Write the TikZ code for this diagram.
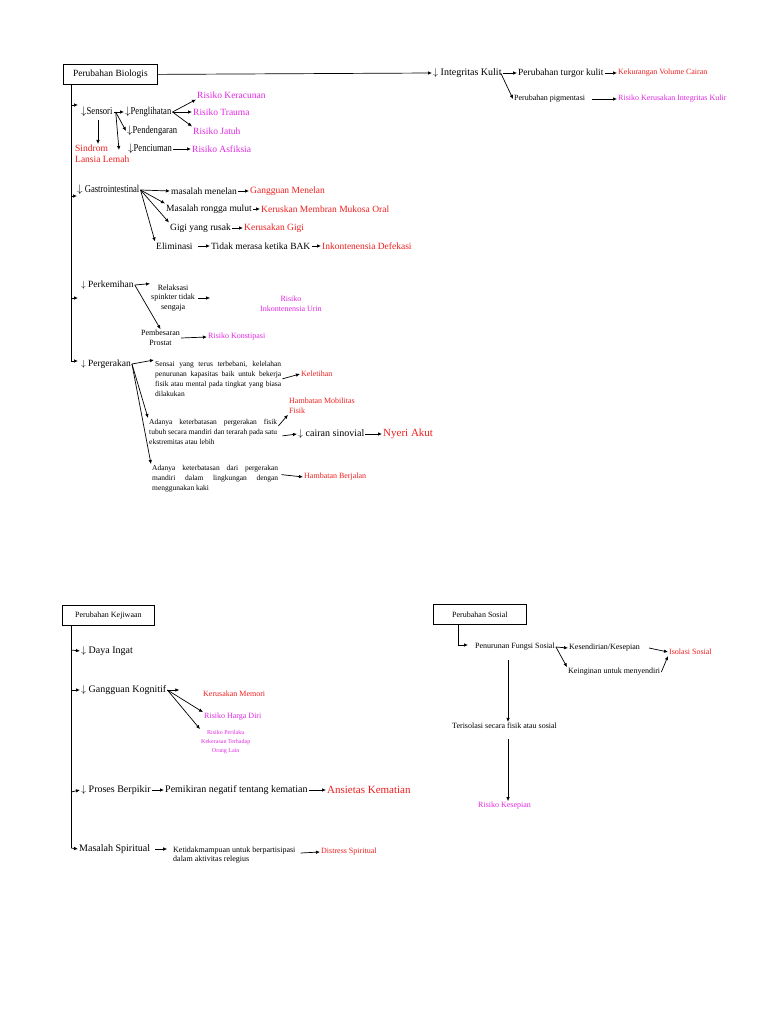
\documentclass[tikz,border=0pt]{standalone}
\usepackage{fontspec}
\setmainfont{Liberation Serif}
\usetikzlibrary{arrows.meta}
\definecolor{rd}{RGB}{240,30,30}
\definecolor{mg}{RGB}{225,40,225}
\begin{document}
\begin{tikzpicture}[x=1pt,y=-1pt,
 t/.style={inner sep=1pt,anchor=west,font=\fontsize{9.5}{11}\selectfont},
 tb/.style={inner sep=1pt,anchor=west,font=\fontsize{10}{12}\selectfont},
 ts/.style={inner sep=1pt,anchor=west,font=\fontsize{8}{9.5}\selectfont},
 r/.style={text=rd}, m/.style={text=mg},
 cond/.style={inner sep=1pt,anchor=west,font=\fontsize{10.5}{12}\selectfont\addfontfeatures{FakeStretch=0.82}},
 box/.style={draw,line width=0.8pt,inner sep=3pt,font=\fontsize{9.5}{11}\selectfont,minimum height=20pt},
 arr/.style={-{Latex[length=4pt,width=3.5pt]},line width=0.7pt},
 ln/.style={line width=0.8pt}]
\useasboundingbox (0,0) rectangle (768,1024);
\fill[white] (0,0) rectangle (768,1024);
% ---------- Biologis
\node[box,minimum width=94pt,anchor=north west] (bio) at (63,64) {Perubahan Biologis};
\node[tb] (ik) at (432,73) {$\downarrow$ Integritas Kulit};
\draw[arr] (bio.east) -- (ik.west);
\node[t] (tur) at (517,73) {Perubahan turgor kulit};
\node[ts,r] (kvc) at (617,73) {Kekurangan Volume Cairan};
\node[ts] (pig) at (513,99) {Perubahan pigmentasi};
\node[ts,m] (rkik) at (617,99) {Risiko Kerusakan Integritas Kulir};
\draw[arr] (ik.east) -- (tur.west);
\draw[arr] (tur.east) -- (kvc.west);
\draw[arr] (ik.east) ++(-2,0) -- (pig.west);
\draw[arr] (pig.east) ++(6,0) -- (rkik.west);
% spine
\coordinate (s0) at (71,84);
\coordinate (s1) at (71,361);
\draw[ln] (s0) -- (s1);
\node[cond] (sen) at (80,112) {$\downarrow$Sensori};
\node[cond] (pl) at (124,112) {$\downarrow$Penglihatan};
\node[cond] (pd) at (126,131) {$\downarrow$Pendengaran};
\node[cond] (pc) at (127,149) {$\downarrow$Penciuman};
\node[t,m] (rkc) at (196,95) {Risiko Keracunan};
\node[t,m] (rtr) at (192,112) {Risiko Trauma};
\node[t,m] (rj) at (192,131) {Risiko Jatuh};
\node[t,m] (ras) at (191,149) {Risiko Asfiksia};
\node[t,r,align=left,anchor=north west] (sll) at (74,144) {Sindrom\\Lansia Lemah};
\draw[arr] (71,105) -- (78,105);
\draw[arr] (sen.east) -- (pl.west);
\draw[arr] (sen.east) ++(2,0) -- (pd.west);
\draw[arr] (sen.east) ++(2,0) -- (119,150);
\draw[arr] (98,120) -- (sll.north -| 98,0);
\draw[arr] (pl.east) -- (rkc.south west);
\draw[arr] (pl.east) -- (rtr.west);
\draw[arr] (pl.east) -- (rj.north west);
\draw[arr] (pc.east) -- (ras.west);
% Gastro
\node[cond] (gi) at (76,190) {$\downarrow$ Gastrointestinal};
\node[t] (mm) at (170,191) {masalah menelan};
\node[t,r] (gm) at (249,191) {Gangguan Menelan};
\node[t] (mr) at (165,209) {Masalah rongga mulut};
\node[t,r] (kmm) at (260,209) {Keruskan Membran Mukosa Oral};
\node[t] (gr) at (169,228) {Gigi yang rusak};
\node[t,r] (kg) at (243,228) {Kerusakan Gigi};
\node[t] (el) at (155,246) {Eliminasi};
\node[t] (tm) at (210,246) {Tidak merasa ketika BAK};
\node[t,r] (id) at (321,246) {Inkontenensia Defekasi};
\draw[arr] (71,196) -- (77,196);
\draw[arr] (gi.east) -- (mm.west);
\draw[arr] (gi.east) -- (mr.north west);
\draw[arr] (gi.east) -- (gr.north west);
\draw[arr] (gi.east) -- (el.north west);
\draw[arr] (mm.east) -- (gm.west);
\draw[arr] (mr.east) -- (kmm.west);
\draw[arr] (gr.east) -- (kg.west);
\draw[arr] (el.east) ++(4,0) -- (tm.west);
\draw[arr] (tm.east) -- (id.west);
% Perkemihan
\node[t] (pk) at (80,285) {$\downarrow$ Perkemihan};
\node[ts,align=center] (rel) at (150,298) {Relaksasi\\spinkter tidak\\sengaja};
\node[ts,align=center,m] (riu) at (259,304) {Risiko\\Inkontenensia Urin};
\node[ts,align=center] (pp) at (140,338) {Pembesaran\\Prostat};
\node[ts,m] (rks) at (207,337) {Risiko Konstipasi};
\draw[arr] (71,298) -- (78,298);
\draw[arr] (pk.east) -- (rel.north west);
\draw[arr] (pk.east) -- (pp.north);
\draw[arr] (rel.east) ++(2,0) -- ++(12,0);
\draw[arr] (pp.east) -- (rks.west);
% Pergerakan
\node[t] (pg) at (80,364) {$\downarrow$ Pergerakan};
\draw[arr] (71,361) -- (78,361);
\node[ts,text width=126pt,align=justify,anchor=north west,font=\fontsize{7.5}{10}\selectfont] (p1) at (154,360) {Sensai yang terus terbebani, kelelahan penurunan kapasitas baik untuk bekerja fisik atau mental pada tingkat yang biasa dilakukan};
\node[ts,r] (kel) at (300,374) {Keletihan};
\node[ts,text width=128pt,align=justify,anchor=north west,font=\fontsize{7.5}{10}\selectfont] (p2) at (148,418) {Adanya keterbatasan pergerakan fisik tubuh secara mandiri dan terarah pada satu ekstremitas atau lebih};
\node[ts,r,align=left] (hmf) at (288,406) {Hambatan Mobilitas\\Fisik};
\node[tb] (cs) at (297,434) {$\downarrow$ cairan sinovial};
\node[tb,r,font=\fontsize{11}{12}\selectfont] (na) at (382,434) {Nyeri Akut};
\node[ts,text width=126pt,align=justify,anchor=north west,font=\fontsize{7.5}{10}\selectfont] (p3) at (151,464) {Adanya keterbatasan dari pergerakan mandiri dalam lingkungan dengan menggunakan kaki};
\node[ts,r] (hb) at (303,477) {Hambatan Berjalan};
\draw[arr] (pg.east) -- (p1.north west);
\draw[arr] (pg.east) -- (p2.north west);
\draw[arr] (pg.east) -- (p3.north west);
\draw[arr] (p1.east) -- (kel.west);
\draw[arr] (p2.east) ++(0,-6) -- (hmf.south west);
\draw[arr] (p2.east) ++(4,4) -- (cs.west);
\draw[arr] (cs.east) -- (na.west);
\draw[arr] (p3.east) ++(2,-4) -- (hb.west);
% ---------- Kejiwaan
\node[box,minimum width=92pt,anchor=north west,font=\fontsize{8}{9}\selectfont] (kej) at (62,605) {Perubahan Kejiwaan};
\coordinate (k1) at (71,848);
\draw[ln] (kej.south -| 71,0) -- (k1);
\node[tb] (di) at (80,651) {$\downarrow$ Daya Ingat};
\node[tb] (gk) at (80,690) {$\downarrow$ Gangguan Kognitif};
\node[ts,r] (km) at (202,694) {Kerusakan Memori};
\node[ts,m] (rhd) at (203,717) {Risiko Harga Diri};
\node[ts,m,align=center,font=\fontsize{6}{9}\selectfont] (rpk) at (200,742) {Risiko Perilaku\\Kekerasan Terhadap\\Orang Lain};
\node[tb] (pb) at (80,790) {$\downarrow$ Proses Berpikir};
\node[tb] (pn) at (164,790) {Pemikiran negatif tentang kematian};
\node[tb,r,font=\fontsize{11}{12}\selectfont] (ak) at (326,790) {Ansietas Kematian};
\node[tb] (ms) at (78,849) {Masalah Spiritual};
\node[ts,align=left] (kt) at (172,855) {Ketidakmampuan untuk berpartisipasi\\dalam aktivitas relegius};
\node[ts,r] (ds) at (320,852) {Distress Spiritual};
\draw[arr] (71,650) -- (di.west);
\draw[arr] (71,690) -- (gk.west);
\draw[arr] (71,792) -- (pb.west);
\draw[arr] (k1) -- (ms.west);
\draw[arr] (gk.east) -- ++(12,0);
\draw[arr] (gk.east) -- (rhd.north west);
\draw[arr] (gk.east) -- (rpk.north west);
\draw[arr] (pb.east) -- (pn.west);
\draw[arr] (pn.east) -- (ak.west);
\draw[arr] (ms.east) ++(4,0) -- ++(12,0);
\draw[arr] (kt.east) ++(4,-2) -- (ds.west);
% ---------- Sosial
\node[box,minimum width=93pt,anchor=north west,font=\fontsize{8}{9}\selectfont] (sos) at (433,604) {Perubahan Sosial};
\node[ts] (pfs) at (474,647) {Penurunan Fungsi Sosial};
\node[ts] (kk) at (568,648) {Kesendirian/Kesepian};
\node[ts,r] (is) at (668,652) {Isolasi Sosial};
\node[ts] (ku) at (567,672) {Keinginan untuk menyendiri};
\node[ts] (ter) at (451,726) {Terisolasi secara fisik atau sosial};
\node[ts,m] (rke) at (477,806) {Risiko Kesepian};
\draw[arr] (458,624) -- (458,645) -- (468,645);
\draw[arr] (pfs.east) -- (kk.west);
\draw[arr] (pfs.east) -- (ku.north west);
\draw[arr] (kk.east) ++(8,0) -- (is.west);
\draw[arr] (ku.east) -- (is.south west);
\draw[arr] (508,660) -- (ter.north -| 508,0);
\draw[arr] (508,739) -- (rke.north -| 508,0);
\end{tikzpicture}
\end{document}
